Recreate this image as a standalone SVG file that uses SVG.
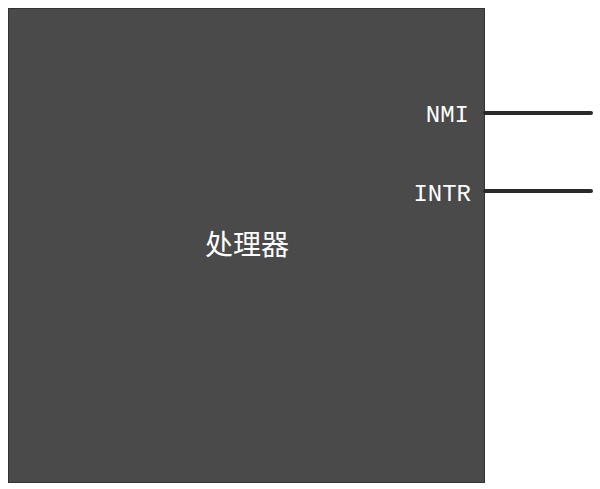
<svg xmlns="http://www.w3.org/2000/svg" width="600" height="489" viewBox="0 0 600 489">
<style>
.mono{font-family:"Liberation Mono",monospace;font-size:24px;fill:#fff;text-anchor:end}
.wire{stroke:#2a2a2a;stroke-width:4;stroke-linecap:round;fill:none}
</style>
<rect width="600" height="489" fill="#fff"/>
<g id="processor">
<rect x="8.5" y="8.5" width="476" height="474" fill="#4a4a4a" stroke="#333" stroke-width="1"/>
<text x="247" y="255" font-family="'Noto Sans CJK SC',sans-serif" font-size="28" fill="#fff" text-anchor="middle">处理器</text>
<text class="mono" x="469" y="122">NMI</text>
<text class="mono" x="471" y="201">INTR</text>
</g>
<g id="connectors">
<line class="wire" x1="485" y1="113" x2="591" y2="113"/>
<line class="wire" x1="485" y1="191" x2="591" y2="191"/>
</g>
</svg>
